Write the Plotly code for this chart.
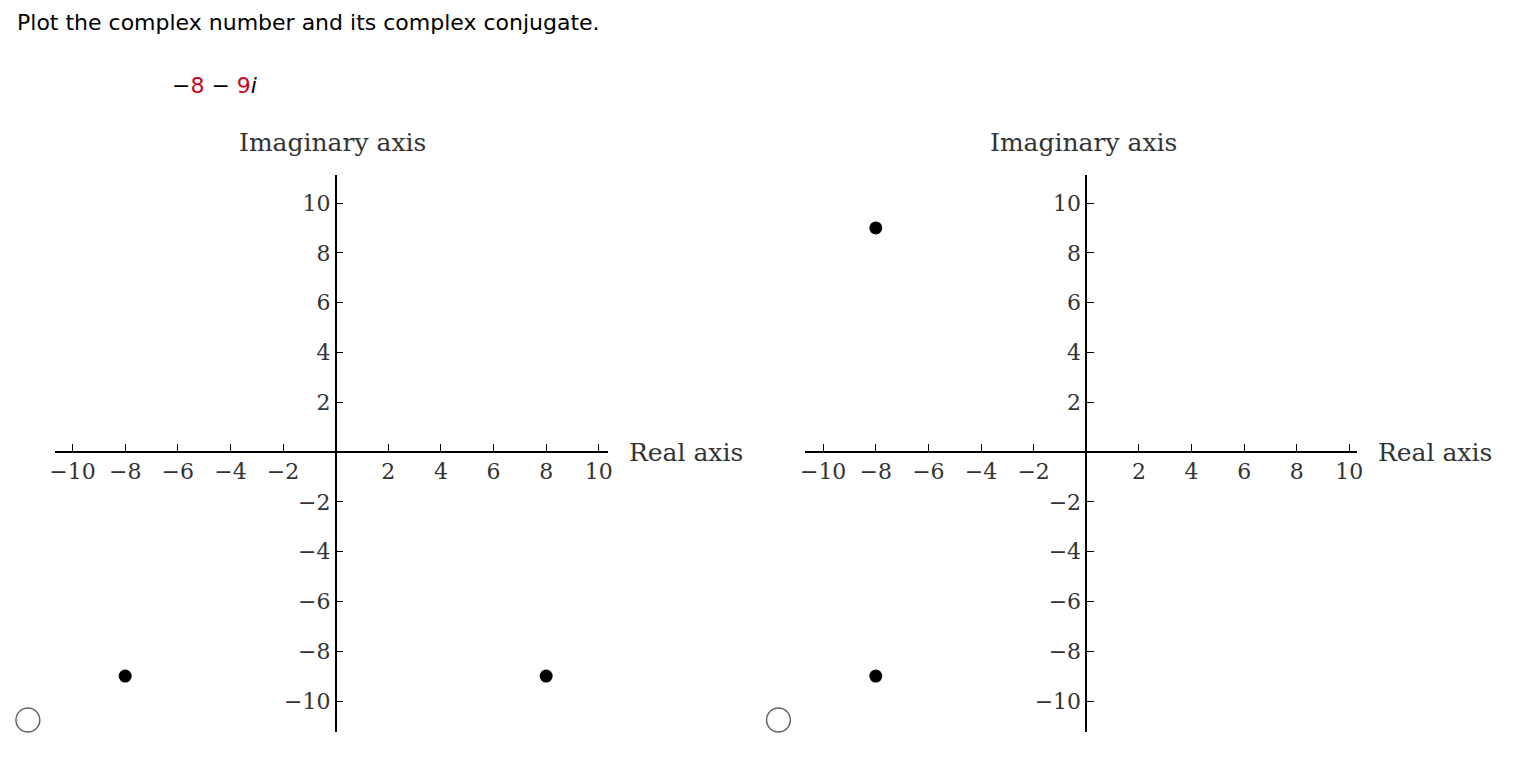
import plotly.graph_objects as go

W, H = 1538, 776
ticks = [-10, -8, -6, -4, -2, 2, 4, 6, 8, 10]
tick_text = [("\u2212" + str(-t)) if t < 0 else str(t) for t in ticks]
left_x = [-8, 8]
left_y = [-9, -9]
right_x = [-8, -8]
right_y = [9, -9]

OFF = 8  # page body margin
def fx(p): return (p - OFF) / W
def fy(p): return 1 - (p - OFF) / H

fig = go.Figure()
fig.add_trace(go.Scatter(x=left_x, y=left_y, mode="markers", xaxis="x", yaxis="y",
                         marker=dict(color="black", size=13), showlegend=False))
fig.add_trace(go.Scatter(x=right_x, y=right_y, mode="markers", xaxis="x2", yaxis="y2",
                         marker=dict(color="black", size=13), showlegend=False))

font = dict(family="DejaVu Serif", size=22, color="#333")
sx, sy = 26.5, 24.9
panels = [(333, 50, 607, ""), (1089, 806, 1362, "2")]
for cx, x0, x1, k in panels:
    cy, y0, y1 = 452, 175, 732
    xa = dict(domain=[fx(x0), fx(x1)], range=[(x0 - cx) / sx, (x1 - cx) / sx],
              anchor="free", position=fy(cy), showline=True, linecolor="black", linewidth=1.5,
              ticks="inside", ticklen=7, tickcolor="black", tickvals=ticks, ticktext=tick_text,
              showgrid=False, zeroline=False, tickfont=font)
    ya = dict(domain=[fy(y1), fy(y0)], range=[(cy - y1) / sy, (cy - y0) / sy],
              anchor="free", position=fx(cx), showline=True, linecolor="black", linewidth=1.5,
              ticks="inside", ticklen=7, tickcolor="black", tickvals=ticks, ticktext=tick_text,
              showgrid=False, zeroline=False, tickfont=font)
    fig.update_layout(**{"xaxis" + k: xa, "yaxis" + k: ya})
    fig.add_annotation(text="Real axis", x=fx(x1 + 19), y=fy(453), xref="paper", yref="paper",
                       xanchor="left", yanchor="middle", showarrow=False,
                       font=dict(family="DejaVu Serif", size=25, color="#333"))
    fig.add_annotation(text="Imaginary axis", x=fx(cx - 3), y=fy(142), xref="paper", yref="paper",
                       xanchor="center", yanchor="middle", showarrow=False,
                       font=dict(family="DejaVu Serif", size=25, color="#333"))
    fig.add_shape(type="circle", xref="paper", yref="paper",
                  x0=fx(x0 - 39), x1=fx(x0 - 15), y0=fy(732), y1=fy(708),
                  line=dict(color="#666", width=1.5))

fig.add_annotation(text="Plot the complex number and its complex conjugate.", x=fx(10), y=fy(22),
                   xref="paper", yref="paper", xanchor="left", yanchor="middle", showarrow=False,
                   font=dict(family="DejaVu Sans", size=22, color="black"))
fig.add_annotation(text="\u2212<span style='color:#d0021b'>8</span> \u2212 <span style='color:#d0021b'>9</span><i>i</i>",
                   x=fx(166), y=fy(86), xref="paper", yref="paper", xanchor="left", yanchor="middle",
                   showarrow=False, font=dict(family="DejaVu Sans", size=22, color="black"))

fig.update_layout(width=W, height=H, margin=dict(l=0, r=0, t=0, b=0),
                  plot_bgcolor="white", paper_bgcolor="white", showlegend=False)
fig.write_html("out.html")
